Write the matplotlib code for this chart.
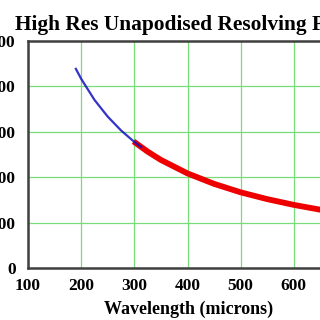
import matplotlib
matplotlib.use("Agg")
import matplotlib.pyplot as plt

# SSW band (blue) and SLW band (red)
ssw_wave = [190, 200, 225, 250, 275, 300, 313]
ssw_rp = [1316, 1250, 1111, 1000, 909, 833, 799]
slw_wave = [303, 325, 350, 400, 450, 500, 550, 600, 650, 671]
slw_rp = [825, 769, 714, 625, 556, 500, 455, 417, 385, 373]

x_ticks = [100, 200, 300, 400, 500, 600, 700]
y_ticks = [0, 300, 600, 900, 1200, 1500]

plt.rcParams['font.family'] = ['Liberation Serif', 'DejaVu Serif']
plt.rcParams['font.weight'] = 'bold'

fig = plt.figure(figsize=(3.2, 3.2), dpi=100)
# the original picture is cropped, so the axes run past the right edge
ax = fig.add_axes([28 / 320, 52 / 320, 319 / 320, 227 / 320])

ax.plot(slw_wave, slw_rp, color='#ee0000', lw=4.2, zorder=2)
ax.plot(ssw_wave, ssw_rp, color='#1010c0', lw=1.6, alpha=0.85, zorder=3)

ax.set_xlim(100, 700)
ax.set_ylim(0, 1500)
ax.set_xticks(x_ticks)
ax.set_yticks(y_ticks)
ax.grid(True, color='#78dd78', lw=0.9)
ax.tick_params(axis='x', length=0, labelsize=12.5, pad=7)
ax.tick_params(axis='y', length=0, labelsize=12.5, pad=9)
for lab in ax.get_xticklabels() + ax.get_yticklabels():
    lab.set_fontweight('bold')
for s in ax.spines.values():
    s.set_color('#404040')
    s.set_linewidth(1.8)

fig.text(189 / 320, 1 - 314 / 320, 'Wavelength (microns)',
         fontsize=13, fontweight='bold', ha='center', va='baseline')
fig.text(15 / 320, 1 - 30 / 320, 'High Res Unapodised Resolving Power',
         fontsize=15.4, fontweight='bold', ha='left', va='baseline')

fig.savefig('out.png', dpi=100)
